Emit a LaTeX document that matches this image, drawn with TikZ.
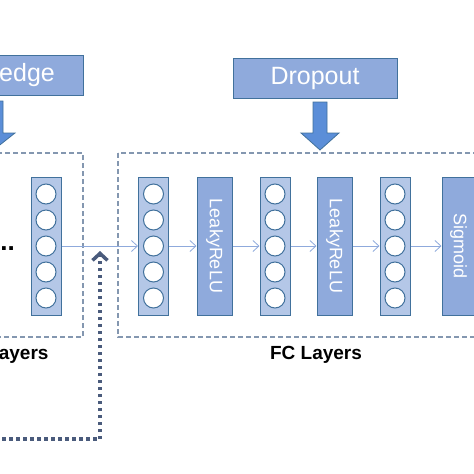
\documentclass[tikz,border=0pt]{standalone}
\usepackage{fontspec}
\setmainfont{Liberation Sans}
\usetikzlibrary{arrows.meta}
\definecolor{boxfill}{HTML}{8FAADC}
\definecolor{colfill}{HTML}{B4C7E7}
\definecolor{boxline}{HTML}{41719C}
\definecolor{bigarrow}{HTML}{5B8ED8}
\definecolor{dashline}{HTML}{8497B0}
\definecolor{flowline}{HTML}{8FAADC}
\definecolor{dotline}{HTML}{4A5B7C}
\tikzset{
  topbox/.style={draw=boxline,line width=1pt,fill=boxfill,text=white,
    minimum height=40pt,inner sep=0pt,font=\fontsize{25}{29}\selectfont},
  layercol/.style={draw=boxline,line width=1pt,fill=colfill,
    minimum width=30pt,minimum height=138pt,inner sep=0pt},
  neuron/.style={circle,draw=boxline,line width=1pt,fill=white,
    minimum size=20pt,inner sep=0pt},
  actbox/.style={draw=boxline,line width=1pt,fill=boxfill,text=white,
    minimum height=138pt,inner sep=0pt,
    font=\fontsize{18}{22}\selectfont},
  groupbox/.style={draw=dashline,line width=1.2pt,dash pattern=on 5pt off 3pt},
  flow/.style={draw=flowline,line width=0.8pt,-{Straight Barb[length=6pt,width=11pt]}},
  biglabel/.style={font=\bfseries\fontsize{19}{23}\selectfont}
}
\begin{document}
\begin{tikzpicture}[x=1pt,y=-1pt]
  \useasboundingbox (0,0) rectangle (474,474);
  % boxes on top
  \draw
    (-7,75) node[topbox,minimum width=180pt] (know){Knowledge}
    (315,78) node[topbox,minimum width=164pt] (drop){Dropout};
  % big arrows
  \fill[bigarrow,draw=boxline,line width=0.8pt]
    (-11,101) -- (3,101) -- (3,133) -- (15,133) -- (-4,148) -- (-23,133) -- (-11,133) -- cycle;
  \fill[bigarrow,draw=boxline,line width=0.8pt]
    (313,102) -- (327,102) -- (327,133) -- (339,133) -- (320,150) -- (301,133) -- (313,133) -- cycle;
  % dashed groups
  \draw[groupbox] (-20,153) rectangle (83,337);
  \draw[groupbox] (118,153) rectangle (490,337);
  % layers
  \draw
    (46,246) node[layercol] (c0){}
    (153.5,246) node[layercol] (c1){}
    (275,246) node[layercol] (c2){}
    (395,246) node[layercol] (c3){};
  \foreach \c in {c0,c1,c2,c3}
    \foreach \k in {-2,...,2}
      \node[neuron] (\c n\k) at ([yshift=\k*26pt]\c.center) {};
  \draw
    (214.5,246) node[actbox,minimum width=35pt] (r1){\rotatebox{-90}{LeakyReLU}}
    (334.5,246) node[actbox,minimum width=35pt] (r2){\rotatebox{-90}{LeakyReLU}}
    (458.5,246) node[actbox,minimum width=33pt] (sig){\rotatebox{-90}{Sigmoid}};
  \node[anchor=base east,inner sep=0pt,font=\bfseries\fontsize{26}{30}\selectfont] (dots) at (15,250.5) {...};
  % dotted link from below
  \coordinate (d0) at (-5,439);
  \coordinate (d1) at (100,439);
  \coordinate (d2) at (100,251);
  \draw[dotline,line width=3.5pt,dash pattern=on 3.5pt off 3.5pt,
    -{Straight Barb[length=7pt,width=15pt]}] (d0) -- (d1) -- (d2);
  \begin{scope}[flow]
    \draw (c0) -- (c1);
    \draw (c1) -- (r1);
    \draw (r1) -- (c2);
    \draw (c2) -- (r2);
    \draw (r2) -- (c3);
    \draw (c3) -- (sig);
  \end{scope}
  % labels
  \node[biglabel,anchor=east] (lgl) at (52,355) {Layers};
  \node[biglabel] (fcl) at (316,355) {FC Layers};
\end{tikzpicture}
\end{document}
